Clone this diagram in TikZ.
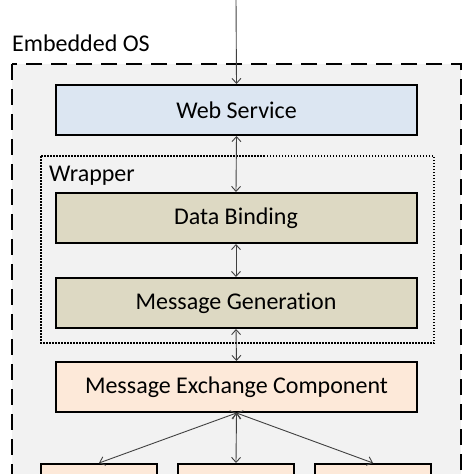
\documentclass[tikz,border=0pt]{standalone}
\usepackage{fontspec}
\setmainfont{Carlito}[Ligatures=NoCommon]
\usetikzlibrary{arrows.meta}
\definecolor{osgray}{HTML}{F2F2F2}
\definecolor{wsblue}{HTML}{DCE6F2}
\definecolor{wraptan}{HTML}{DDD9C3}
\definecolor{mecpeach}{HTML}{FDE9D9}

\begin{document}
\begin{tikzpicture}[x=1pt,y=-1pt,
    comp/.style={draw=black,line width=2pt,minimum width=361pt,minimum height=50pt,inner sep=0pt,font=\fontsize{24}{28}\selectfont},
    small/.style={draw=black,line width=2pt,minimum width=116pt,minimum height=50pt,inner sep=0pt,fill=mecpeach},
    link/.style={draw=black!75,line width=0.9pt,{Straight Barb[length=5pt,width=9pt]}-{Straight Barb[length=5pt,width=9pt]}},
    lbl/.style={right,inner sep=0pt,font=\fontsize{24}{28}\selectfont}]
        \useasboundingbox (0,0) rectangle (474,474);
        \clip (0,0) rectangle (474,474);

        % Embedded OS
        \draw[fill=osgray,line width=2.6pt,dash pattern=on 16pt off 9pt] (12,64) rectangle (461,530);
        \node[lbl] (oslabel) at (12,43) {Embedded OS};

        % Wrapper
        \draw[line width=2pt,dash pattern=on 1.5pt off 1.5pt] (41,156) rectangle (434,343);
        \node[lbl] (wraplabel) at (49,176) {Wrapper};

        % Components
        \node[comp,fill=wsblue] (ws) at (236.5,110) {Web Service};
        \node[comp,fill=wraptan] (db) at (236,218) {Data Binding};
        \node[comp,fill=wraptan] (mg) at (236,303) {Message Generation};
        \node[comp,fill=mecpeach] (mec) at (236.5,387) {Message Exchange Component};

        % Lower boxes
        \node[small] (low1) at (99,489) {};
        \node[small] (low2) at (236,489) {};
        \node[small] (low3) at (373,489) {};

        % Links
        \coordinate (top) at (236,-2);
        \draw[black!75,line width=0.9pt,-{Straight Barb[length=5pt,width=9pt]}] (top) -- (ws.north);
        \draw[link] (ws.south) -- (db.north);
        \draw[link] (db.south) -- (mg.north);
        \draw[link] (mg.south) -- (mec.north);
        \draw[link] (mec.south) -- (low1.north);
        \draw[link] (mec.south) -- (low2.north);
        \draw[link] (mec.south) -- (low3.north);
\end{tikzpicture}
\end{document}
